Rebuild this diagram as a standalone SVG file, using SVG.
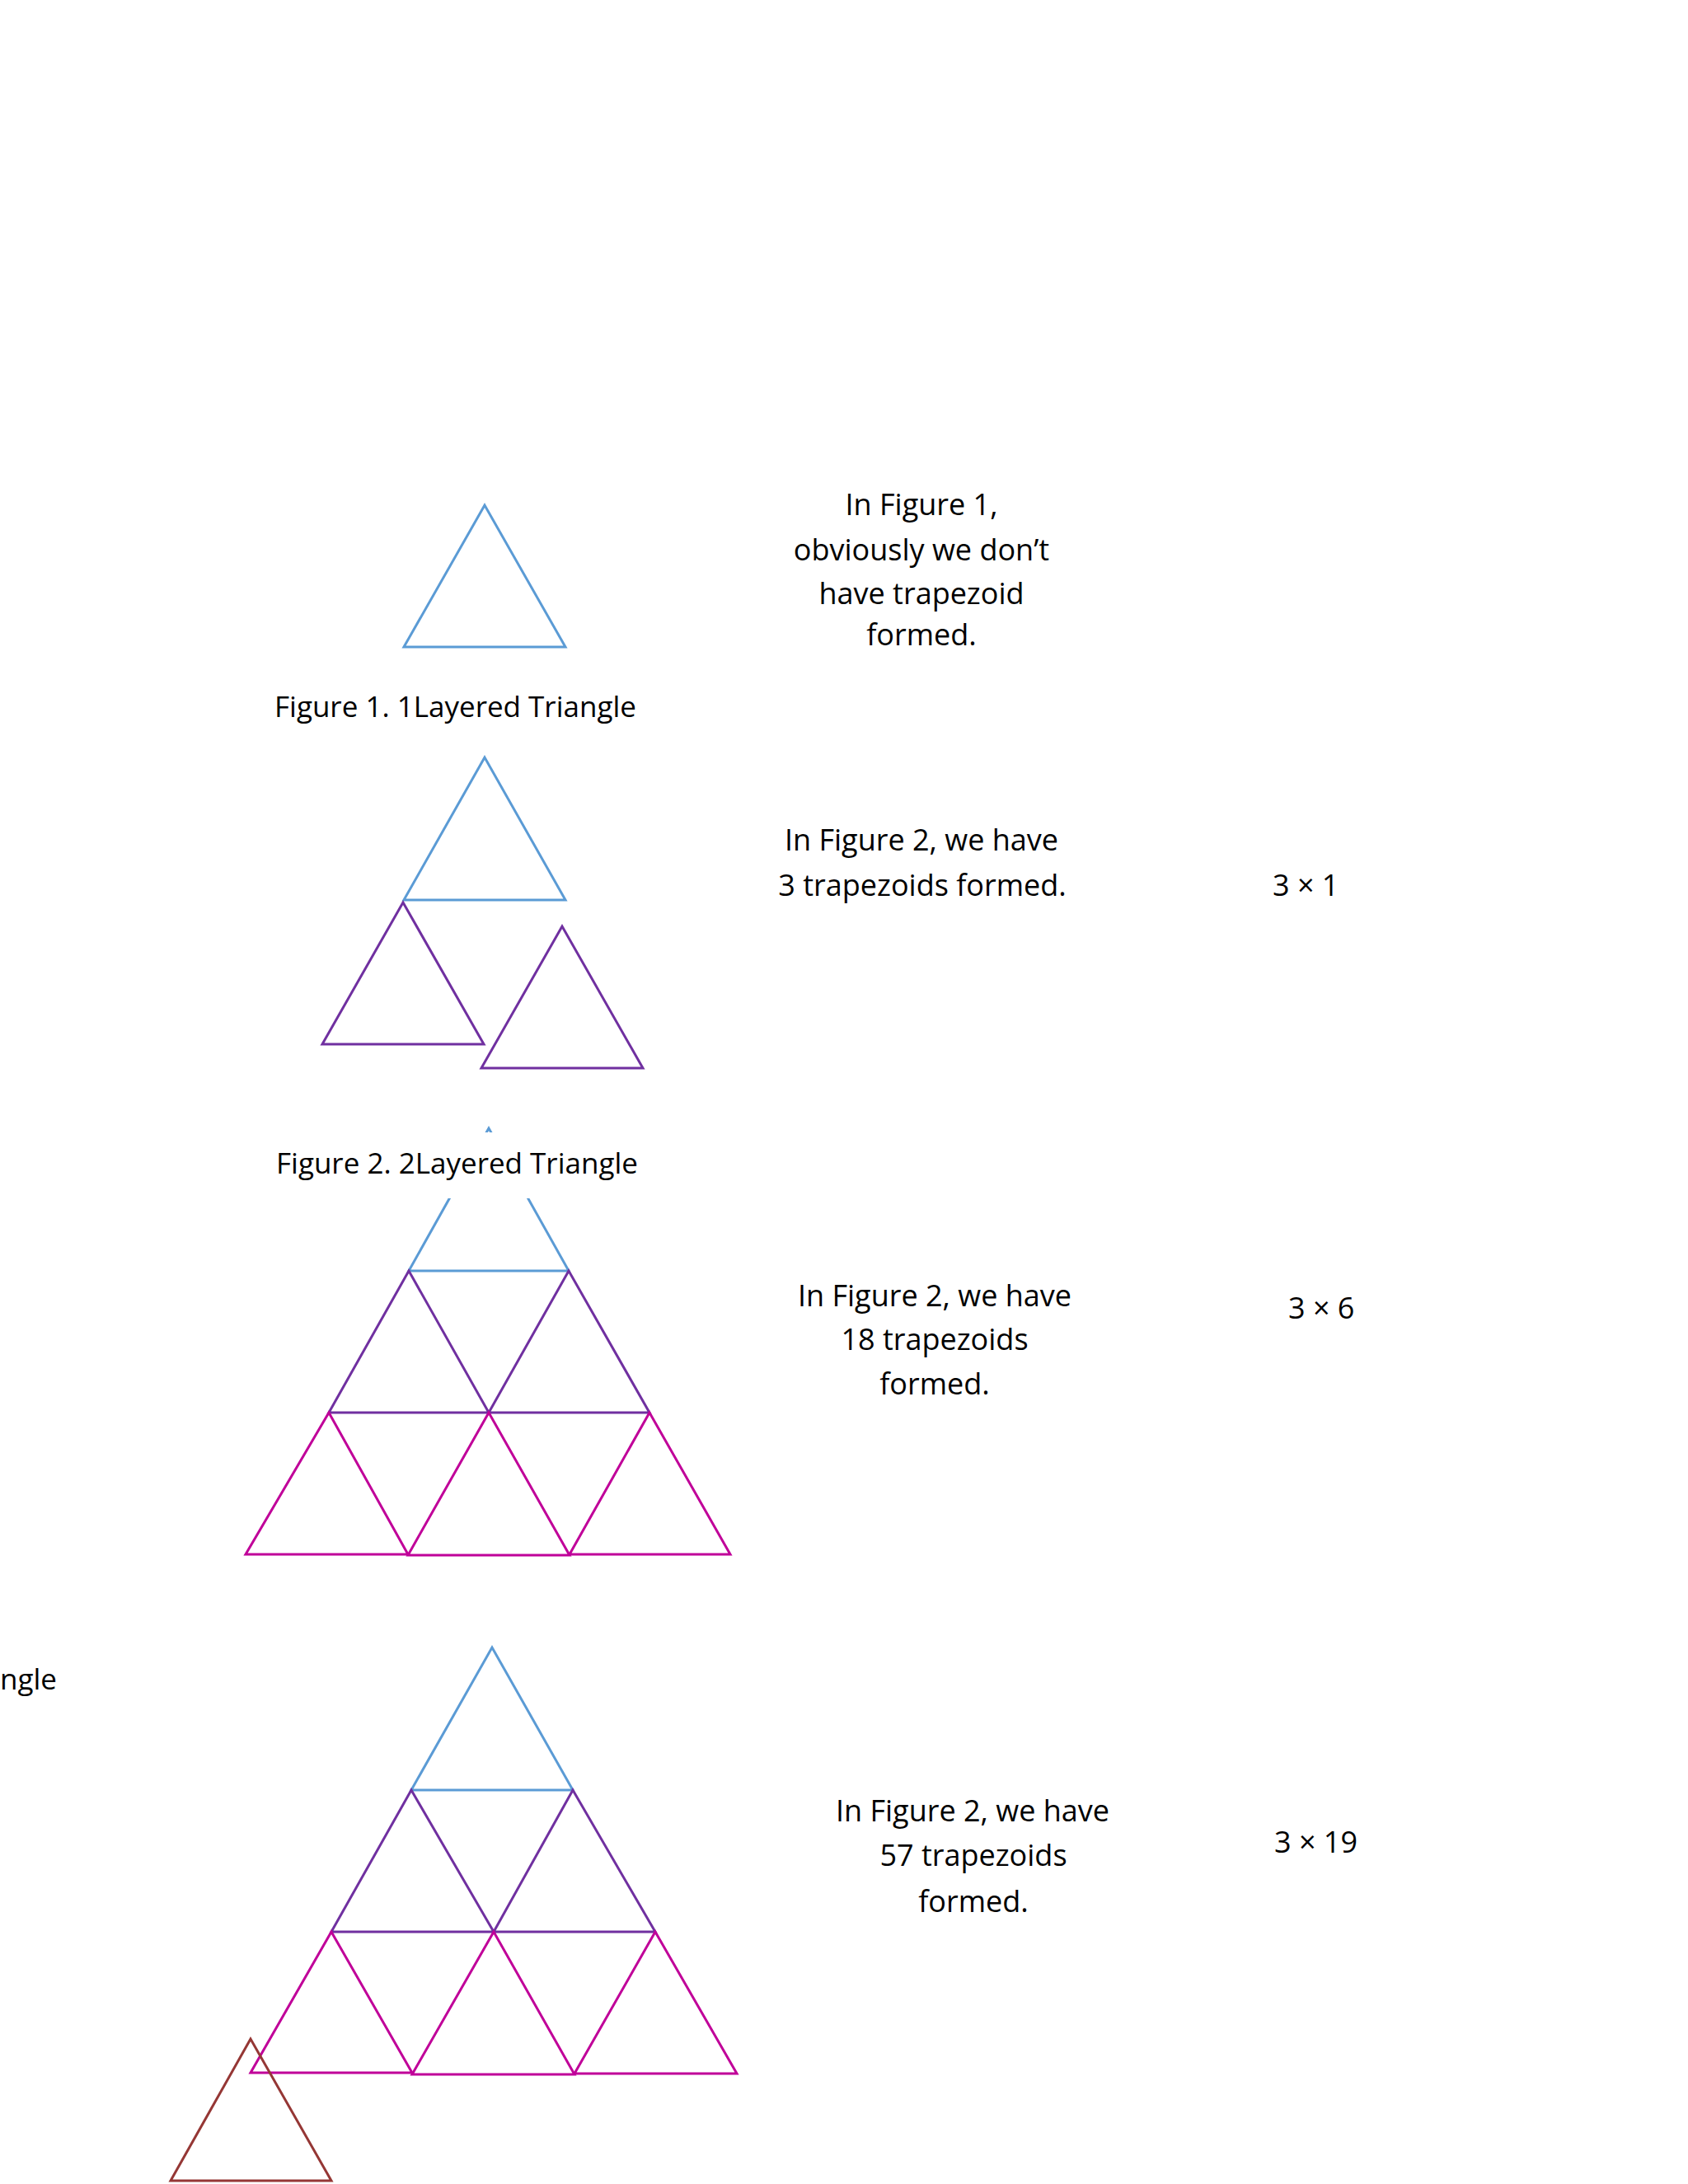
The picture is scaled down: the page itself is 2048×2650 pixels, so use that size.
<svg xmlns="http://www.w3.org/2000/svg" width="2048" height="2650" viewBox="0 0 2048 2650">
<style>
.t{font-family:"Open Sans","Liberation Sans",sans-serif;font-size:36px;fill:#000}
.c{font-family:"Open Sans","Liberation Sans",sans-serif;font-size:35px;fill:#000}
.m{text-anchor:middle}
.tri{fill:none;stroke-width:3;stroke-linejoin:miter}
.b{stroke:#5B9BD5}
.p{stroke:#7030A0}
.g{stroke:#C00099}
.r{stroke:#953735}
</style>
<rect width="2048" height="2650" fill="#fff"/>
<g id="figure1">
<polygon class="tri b" points="588,613 490,785 686,785"/>
<text class="c" x="333" y="870">Figure 1. 1Layered Triangle</text>
</g>
<g id="text1">
<text class="t m" x="1118" y="625">In Figure 1,</text>
<text class="t m" x="1118" y="680">obviously we don’t</text>
<text class="t m" x="1118" y="733">have trapezoid</text>
<text class="t m" x="1118" y="783">formed.</text>
</g>
<g id="figure2">
<polygon class="tri b" points="588,919 490,1092 686,1092"/>
<polygon class="tri p" points="489,1095 391,1267 587,1267"/>
<polygon class="tri p" points="682,1124 584,1296 780,1296"/>
</g>
<g id="text2">
<text class="t m" x="1118" y="1032">In Figure 2, we have</text>
<text class="t m" x="1119" y="1087">3 trapezoids formed.</text>
<text class="t" x="1544" y="1087">3 × 1</text>
</g>
<g id="figure3">
<polygon class="tri b" points="593,1369 496,1542 690,1542"/>
<polygon class="tri p" points="496,1542 399,1714 593,1714"/>
<polygon class="tri p" points="690,1542 593,1714 788,1714"/>
<polygon class="tri g" points="399,1714 298,1886 495,1886"/>
<polygon class="tri g" points="593,1714 495,1887 691,1887"/>
<polygon class="tri g" points="788,1714 691,1886 886,1886"/>
</g>
<g id="caption2">
<rect x="325" y="1374" width="470" height="80" fill="#fff"/>
<text class="c" x="335" y="1424">Figure 2. 2Layered Triangle</text>
</g>
<g id="text3">
<text class="t m" x="1134" y="1585">In Figure 2, we have</text>
<text class="t m" x="1134" y="1638">18 trapezoids</text>
<text class="t m" x="1134" y="1692">formed.</text>
<text class="t" x="1563" y="1600">3 × 6</text>
</g>
<g id="figure4">
<polygon class="tri b" points="597,1999 499,2172 695,2172"/>
<polygon class="tri p" points="499,2172 402,2344 599,2344"/>
<polygon class="tri p" points="695,2172 599,2344 795,2344"/>
<polygon class="tri g" points="402,2344 304,2515 500,2515"/>
<polygon class="tri g" points="599,2344 500,2517 697,2517"/>
<polygon class="tri g" points="795,2344 697,2516 894,2516"/>
<polygon class="tri r" points="304,2474 207,2646 402,2646"/>
</g>
<g id="caption3">
<text class="c" x="0" y="2050">ngle</text>
</g>
<g id="text4">
<text class="t m" x="1180" y="2210">In Figure 2, we have</text>
<text class="t m" x="1181" y="2264">57 trapezoids</text>
<text class="t m" x="1181" y="2320">formed.</text>
<text class="t" x="1546" y="2248">3 × 19</text>
</g>
</svg>
